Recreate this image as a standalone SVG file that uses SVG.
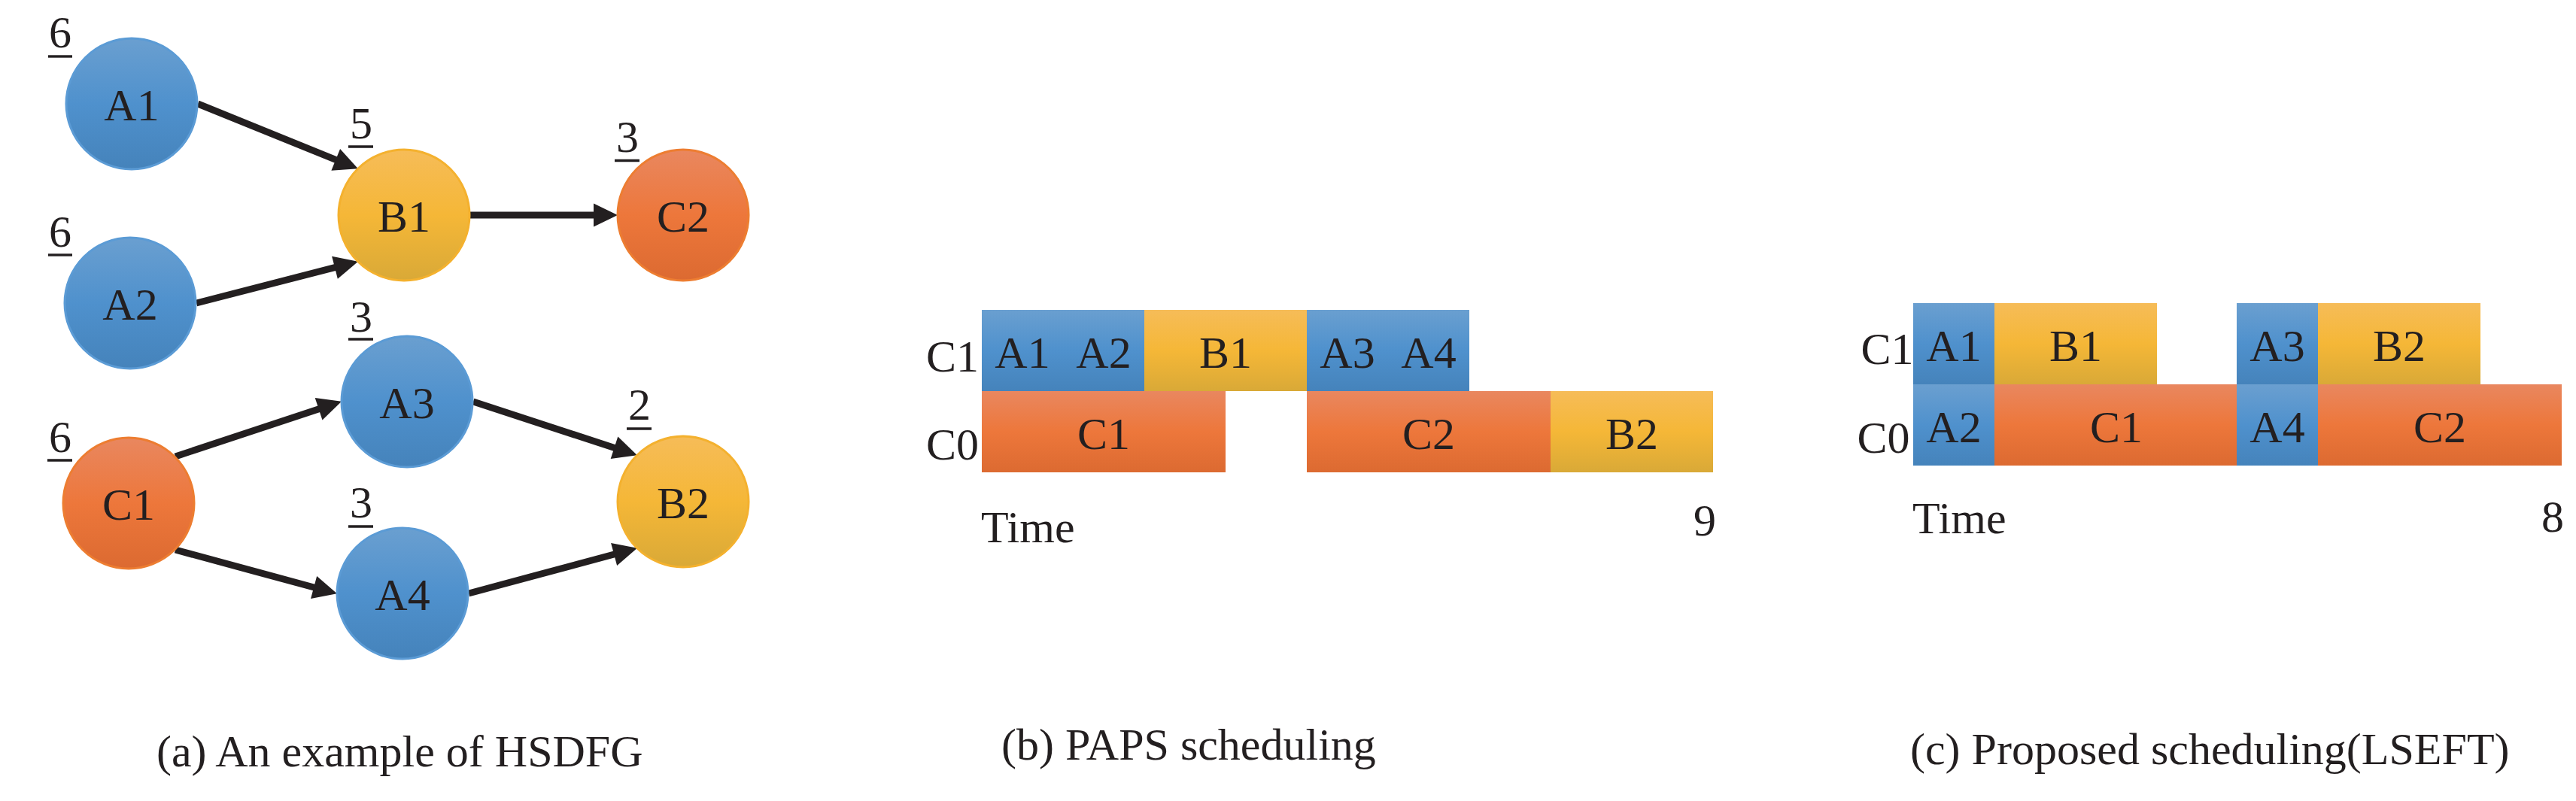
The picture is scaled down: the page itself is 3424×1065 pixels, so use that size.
<svg xmlns="http://www.w3.org/2000/svg" width="3424" height="1065" viewBox="0 0 3424 1065" font-family="'Liberation Serif', 'Times New Roman', Tinos, 'DejaVu Serif', serif">
<defs>
<linearGradient id="gBlue" x1="0" y1="0" x2="0" y2="1">
<stop offset="0" stop-color="#6a9fd0"/><stop offset="0.5" stop-color="#4f91cd"/><stop offset="1" stop-color="#4583bb"/>
</linearGradient>
<linearGradient id="gOrange" x1="0" y1="0" x2="0" y2="1">
<stop offset="0" stop-color="#e9875f"/><stop offset="0.5" stop-color="#ed773b"/><stop offset="1" stop-color="#dc6a31"/>
</linearGradient>
<linearGradient id="gYellow" x1="0" y1="0" x2="0" y2="1">
<stop offset="0" stop-color="#f6bc58"/><stop offset="0.5" stop-color="#f5b737"/><stop offset="1" stop-color="#d9a937"/>
</linearGradient>
<marker id="arrow" markerUnits="userSpaceOnUse" markerWidth="32" markerHeight="31" refX="6" refY="15.5" orient="auto" overflow="visible">
<path d="M0,0 L32,15.5 L0,31 z" fill="#231f20"/>
</marker>
</defs>
<style>
text{font-family:'Liberation Serif','Times New Roman',Tinos,'DejaVu Serif',serif;font-size:60px;fill:#231f20;}
.c{text-anchor:middle;}
.e{text-anchor:end;}
.blue{fill:url(#gBlue);stroke:#5b9bd5;stroke-width:3;}
.orange{fill:url(#gOrange);stroke:#ed7d31;stroke-width:3;}
.yellow{fill:url(#gYellow);stroke:#f4b12e;stroke-width:3;}
.ul{stroke:#231f20;stroke-width:3.4;}
.edge{stroke:#231f20;stroke-width:9;fill:none;marker-end:url(#arrow);}
.bb{fill:url(#gBlue);}
.bo{fill:url(#gOrange);}
.by{fill:url(#gYellow);}
</style>

<g id="connectors">
<line class="edge" x1="263" y1="138" x2="451.8" y2="214.6"/>
<line class="edge" x1="261" y1="403" x2="450.8" y2="354.2"/>
<line class="edge" x1="625" y1="286" x2="795" y2="286"/>
<line class="edge" x1="233" y1="607" x2="429.3" y2="541.9"/>
<line class="edge" x1="233" y1="731" x2="422.9" y2="782.5"/>
<line class="edge" x1="629" y1="534" x2="822.2" y2="597.2"/>
<line class="edge" x1="623" y1="789" x2="821.9" y2="735.5"/>
</g>

<g id="node-A1">
<circle class="blue" cx="175" cy="138" r="87"/>
<text class="c" x="175" y="160">A1</text>
<text class="c" x="80" y="63">6</text>
<line class="ul" x1="64" y1="75" x2="96" y2="75"/>
</g>
<g id="node-A2">
<circle class="blue" cx="173" cy="403" r="87"/>
<text class="c" x="173" y="425">A2</text>
<text class="c" x="80" y="328">6</text>
<line class="ul" x1="64" y1="339" x2="96" y2="339"/>
</g>
<g id="node-B1">
<circle class="yellow" cx="537" cy="286" r="87"/>
<text class="c" x="537" y="308">B1</text>
<text class="c" x="480" y="184">5</text>
<line class="ul" x1="463" y1="195" x2="496" y2="195"/>
</g>
<g id="node-C2">
<circle class="orange" cx="908" cy="286" r="87"/>
<text class="c" x="908" y="308">C2</text>
<text class="c" x="834" y="202">3</text>
<line class="ul" x1="817" y1="213.5" x2="850" y2="213.5"/>
</g>
<g id="node-C1">
<circle class="orange" cx="171" cy="669" r="87"/>
<text class="c" x="171" y="691">C1</text>
<text class="c" x="80" y="601">6</text>
<line class="ul" x1="63" y1="612" x2="96" y2="612"/>
</g>
<g id="node-A3">
<circle class="blue" cx="541" cy="534" r="87"/>
<text class="c" x="541" y="556">A3</text>
<text class="c" x="480" y="441">3</text>
<line class="ul" x1="463" y1="451" x2="496" y2="451"/>
</g>
<g id="node-A4">
<circle class="blue" cx="535" cy="789" r="87"/>
<text class="c" x="535" y="811">A4</text>
<text class="c" x="480" y="688">3</text>
<line class="ul" x1="463" y1="700" x2="496" y2="700"/>
</g>
<g id="node-B2">
<circle class="yellow" cx="908" cy="667" r="87"/>
<text class="c" x="908" y="689">B2</text>
<text class="c" x="850" y="558">2</text>
<line class="ul" x1="833" y1="570" x2="866" y2="570"/>
</g>

<g id="gantt-b">
<rect class="bb" x="1305" y="412" width="216" height="108"/>
<rect class="by" x="1521" y="412" width="216" height="108"/>
<rect class="bb" x="1737" y="412" width="216" height="108"/>
<rect class="bo" x="1305" y="520" width="324" height="108"/>
<rect class="bo" x="1737" y="520" width="324" height="108"/>
<rect class="by" x="2061" y="520" width="216" height="108"/>
<text x="1231" y="494">C1</text>
<text x="1231" y="611">C0</text>
<text class="c" x="1359" y="489">A1</text>
<text class="c" x="1467" y="489">A2</text>
<text class="c" x="1629" y="489">B1</text>
<text class="c" x="1791" y="489">A3</text>
<text class="c" x="1899" y="489">A4</text>
<text class="c" x="1467" y="597">C1</text>
<text class="c" x="1899" y="597">C2</text>
<text class="c" x="2169" y="597">B2</text>
<text x="1304" y="721">Time</text>
<text class="e" x="2281" y="712">9</text>
</g>

<g id="gantt-c">
<rect class="bb" x="2543" y="403" width="108" height="108"/>
<rect class="by" x="2651" y="403" width="216" height="108"/>
<rect class="bb" x="2973" y="403" width="108" height="108"/>
<rect class="by" x="3081" y="403" width="216" height="108"/>
<rect class="bb" x="2543" y="511" width="108" height="108"/>
<rect class="bo" x="2651" y="511" width="324" height="108"/>
<rect class="bb" x="2973" y="511" width="108" height="108"/>
<rect class="bo" x="3081" y="511" width="324" height="108"/>
<text x="2473.5" y="484">C1</text>
<text x="2468.5" y="602">C0</text>
<text class="c" x="2597" y="480">A1</text>
<text class="c" x="2759" y="480">B1</text>
<text class="c" x="3027" y="480">A3</text>
<text class="c" x="3189" y="480">B2</text>
<text class="c" x="2597" y="588">A2</text>
<text class="c" x="2813" y="588">C1</text>
<text class="c" x="3027" y="588">A4</text>
<text class="c" x="3243" y="588">C2</text>
<text x="2542" y="709">Time</text>
<text class="e" x="3408" y="707">8</text>
</g>

<g id="captions">
<text x="208" y="1019">(a) An example of HSDFG</text>
<text x="1331" y="1010">(b) PAPS scheduling</text>
<text x="2539" y="1016">(c) Proposed scheduling(LSEFT)</text>
</g>
</svg>
